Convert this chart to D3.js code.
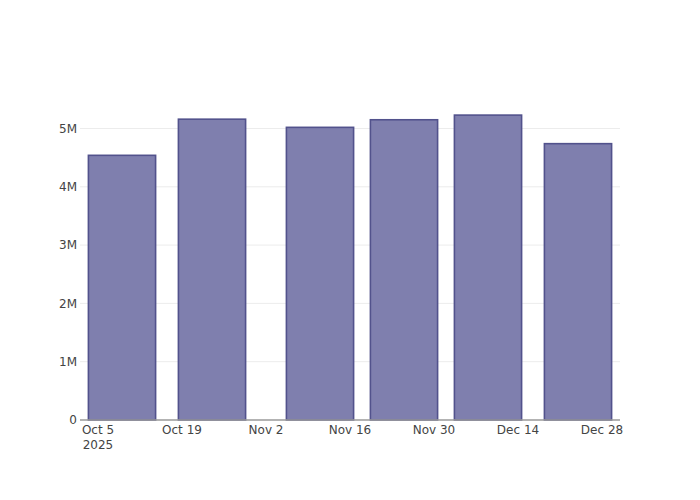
<!DOCTYPE html>
<html>
<head>
<meta charset="utf-8">
<script src="https://cdn.jsdelivr.net/npm/d3@7"></script>
<style>
  body { margin: 0; background: #fff; }
  svg { display: block; }
</style>
</head>
<body>
<svg id="chart" width="700" height="500"></svg>
<script>
// Data
const dates = ["2025-10-09", "2025-10-24", "2025-11-11", "2025-11-25", "2025-12-09", "2025-12-24"];
const values = [4540000, 5160000, 5020000, 5150000, 5230000, 4740000];
const xTickDates = ["2025-10-05", "2025-10-19", "2025-11-02", "2025-11-16", "2025-11-30", "2025-12-14", "2025-12-28"];
const yTickValues = [0, 1000000, 2000000, 3000000, 4000000, 5000000];

const parse = d3.utcParse("%Y-%m-%d");
const W = 700, H = 500;
const m = { l: 80, r: 80, t: 100, b: 80 };

const svg = d3.select("#chart");

const x = d3.scaleUtc()
  .domain([parse("2025-10-02"), parse("2025-12-31")])
  .range([m.l, W - m.r]);
const y = d3.scaleLinear()
  .domain([0, 5489000])
  .range([H - m.b, m.t]);

const font = "'DejaVu Sans', sans-serif";

// gridlines
svg.append("g").selectAll("line")
  .data(yTickValues.filter(v => v > 0))
  .join("line")
  .attr("x1", m.l).attr("x2", W - m.r)
  .attr("y1", d => y(d)).attr("y2", d => y(d))
  .attr("stroke", "#ececec").attr("stroke-width", 1);

// bars
const barW = x(parse("2025-10-15")) - x(parse("2025-10-01")); // 14 days
const bw = barW * 0.8;
svg.append("g").selectAll("rect")
  .data(dates.map((d, i) => ({ date: parse(d), v: values[i] })))
  .join("rect")
  .attr("x", d => x(d.date) - bw / 2)
  .attr("width", bw)
  .attr("y", d => y(d.v))
  .attr("height", d => y(0) - y(d.v))
  .attr("fill", "#7f7fae")
  .attr("stroke", "#52528c")
  .attr("stroke-width", 1.6);

// x axis line
svg.append("line")
  .attr("x1", m.l).attr("x2", W - m.r)
  .attr("y1", y(0)).attr("y2", y(0))
  .attr("stroke", "#9a9a9a").attr("stroke-width", 1.6);

// y tick labels
const yFmt = v => v === 0 ? "0" : (v / 1e6) + "M";
svg.append("g").selectAll("text")
  .data(yTickValues)
  .join("text")
  .attr("x", m.l - 3)
  .attr("y", d => y(d))
  .attr("dy", "0.35em")
  .attr("text-anchor", "end")
  .attr("font-family", font)
  .attr("font-size", 12)
  .attr("fill", "#444")
  .text(yFmt);

// x tick labels
const xFmt = d3.utcFormat("%b %-d");
const xt = svg.append("g").selectAll("text")
  .data(xTickDates.map(parse))
  .join("text")
  .attr("x", d => x(d))
  .attr("y", 433.5)
  .attr("text-anchor", "middle")
  .attr("font-family", font)
  .attr("font-size", 12)
  .attr("fill", "#444");
xt.append("tspan").attr("x", d => x(d)).text(d => xFmt(d));
xt.filter((d, i) => i === 0)
  .append("tspan").attr("x", d => x(d)).attr("dy", 15).text(d => d3.utcFormat("%Y")(d));
</script>
</body>
</html>
